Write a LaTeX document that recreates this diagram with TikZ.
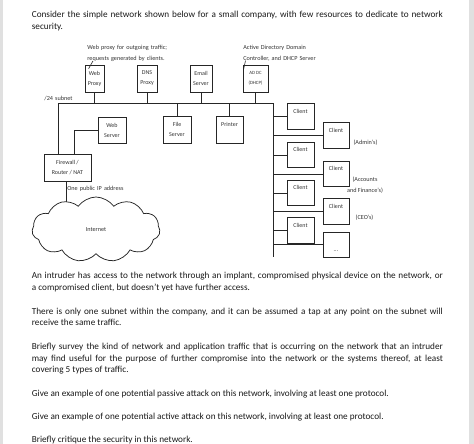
\documentclass[tikz,border=0pt]{standalone}
\usepackage{fontspec}
\setmainfont{Carlito}
\usetikzlibrary{
  shapes.symbols,
  backgrounds,
  positioning
}
\tikzset{every picture/.style={line width=0.75pt}}
\tikzset{
  dev/.style={draw=black!85, fill=white, inner sep=0pt, align=center,
    font=\fontsize{6}{10}\selectfont, text=black!80},
  topdev/.style={dev, text height=9.5pt, text depth=16pt},
  wire/.style={draw=black!85, line width=1pt},
  note/.style={inner sep=0pt, anchor=base west, text width=95pt, align=left,
    font=\fontsize{6.2}{11}\selectfont, text=black!80},
  para/.style={inner sep=0pt, anchor=base west, text width=411pt, align=justify,
    font=\fontsize{9.2}{11.7}\selectfont, text=black!90}
}

\begin{document}
\begin{tikzpicture}[x=1pt, y=-1pt]
\useasboundingbox (0,0) rectangle (474,444);
% page edges
\fill[black!12] (0,0) rectangle (3,444);
\fill[black!12] (469,0) rectangle (474,444);

% question text
\node[para] (intro) at (31.5,17.5) {Consider the simple network shown below for a small company, with few resources to dedicate to network\linebreak security.};
\node[para] (p1) at (31.5,278.3) {An intruder has access to the network through an implant, compromised physical device on the network, or\linebreak a compromised client, but doesn’t yet have further access.};
\node[para] (p2) at (31.5,314) {There is only one subnet within the company, and it can be assumed a tap at any point on the subnet will\linebreak receive the same traffic.};
\node[para] (p3) at (31.5,349.3) {Briefly survey the kind of network and application traffic that is occurring on the network that an intruder\linebreak may find useful for the purpose of further compromise into the network or the systems thereof, at least\linebreak covering 5 types of traffic.};
\node[para] (p4) at (31.5,396) {Give an example of one potential passive attack on this network, involving at least one protocol.};
\node[para] (p5) at (31.5,419) {Give an example of one potential active attack on this network, involving at least one protocol.};
\node[para] (p6) at (31.5,442.7) {Briefly critique the security in this network.};

% servers above the bus
\node[dev, minimum width=19pt, minimum height=27pt] (wp) at (94.5,78.5) {Web\\Proxy};
\node[dev, minimum width=20pt, minimum height=27pt] (dns) at (147,78.5) {DNS\\Proxy};
\node[dev, minimum width=22pt, minimum height=27pt] (mail) at (201,78.5) {Email\\Server};
\node[dev, minimum width=25pt, minimum height=27pt, font=\fontsize{4.8}{10}\selectfont] (ad) at (255.5,78.5) {AD DC\\(DHCP)};
\node[note] (wpn) at (87,49.5) {Web proxy for outgoing traffic;\\requests generated by clients.};
\node[note] (adn) at (243,49.5) {Active Directory Domain\\Controller, and DHCP Server};
\node[note, text width=40pt] (sub) at (44,100) {/24 subnet};

% servers below the bus
\node[dev, minimum width=28pt, minimum height=26pt] (ws) at (112,130) {Web\\Server};
\node[dev, minimum width=28pt, minimum height=27pt] (fs) at (177,129.5) {File\\Server};
\node[topdev, minimum width=27pt, text height=10pt, text depth=17pt] (pr) at (229.5,129.5) {Printer};
\node[dev, minimum width=47pt, minimum height=27pt] (fw) at (67.5,167.5) {Firewall /\\Router / NAT};
\node[note] (ip) at (67,190) {One public IP address};
\node[cloud, draw=black!85, fill=white, cloud puffs=11, cloud puff arc=110, aspect=2.3,
  minimum width=128pt, minimum height=65pt, inner sep=0pt,
  font=\fontsize{6.2}{10}\selectfont, text=black!80] (inet) at (96,229.5) {Internet};

% clients
\node[topdev, minimum width=27pt] (cl1) at (300.5,116.5) {Client};
\node[topdev, minimum width=27pt] (cl3) at (300.5,155) {Client};
\node[topdev, minimum width=27pt] (cl5) at (300.5,193) {Client};
\node[topdev, minimum width=27pt] (cl7) at (300.5,230.5) {Client};
\node[topdev, minimum width=26pt] (cl2) at (336,135.5) {Client};
\node[topdev, minimum width=26pt] (cl4) at (336,174) {Client};
\node[topdev, minimum width=26pt] (cl6) at (336,211.5) {Client};
\node[dev, minimum width=26pt, text height=19.5pt, text depth=5.5pt] (cl8) at (336,244.5) {...};
\node[inner sep=0pt, font=\fontsize{6.2}{11}\selectfont, text=black!80] (adm) at (365.5,143) {(Admin’s)};
\node[inner sep=0pt, align=center, font=\fontsize{6.2}{11}\selectfont, text=black!80] (acc) at (365,185.5) {(Accounts\\and Finance’s)};
\node[inner sep=0pt, font=\fontsize{6.2}{11}\selectfont, text=black!80] (ceo) at (364.5,218) {(CEO’s)};

% bus
\coordinate (busL) at (58,103);
\coordinate (busR) at (273,103);
\coordinate (busE) at (273,257);

\begin{pgfonlayer}{background}
\draw[wire] (fw.north -| busL) -- (busL) -- (busR) -- (busE);
\foreach \n in {wp, dns, mail, ad}
  \draw[wire] (\n.south) -- (\n.south |- busL);
\foreach \n in {fs, pr}
  \draw[wire] (\n.north) -- (\n.north |- busL);
\foreach \n in {cl1, cl2, cl3, cl4, cl5, cl6, cl7, cl8}
  \draw[wire] (\n.west) -- (\n.west -| busR);
\draw[wire] (ws.west) -| ([xshift=6.5pt]fw.north);
\draw[wire] ([xshift=-1.5pt]fw.south) -- ([xshift=-1.5pt]fw.south |- inet.center);
\end{pgfonlayer}

% pointers
\draw[wire, line width=0.6pt] ([xshift=6pt,yshift=1pt]wpn.south west) -- ([xshift=4pt,yshift=-4pt]wp.north west);
\draw[wire, line width=0.6pt] ([xshift=2.5pt,yshift=1pt]adn.south west) -- ([xshift=1pt,yshift=-4.5pt]ad.north west);
\end{tikzpicture}
\end{document}
